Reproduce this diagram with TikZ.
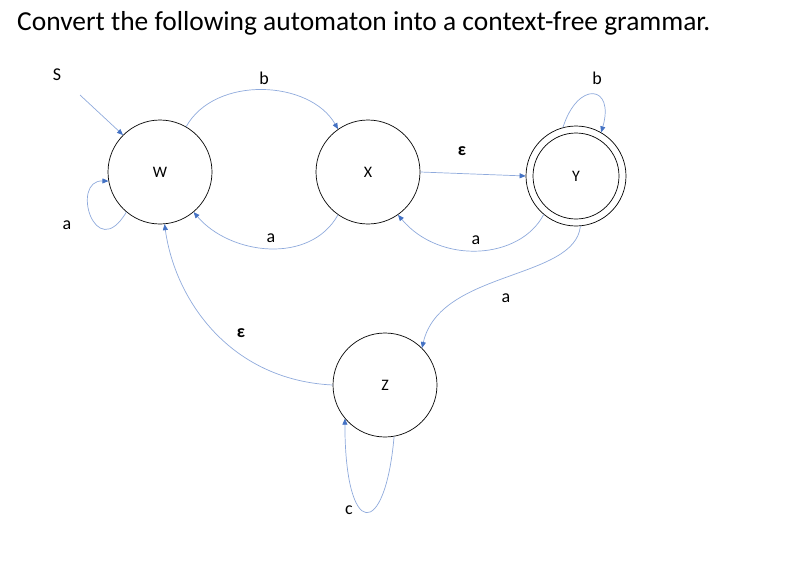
\documentclass[tikz,border=0pt]{standalone}
\usepackage{fontspec}
\setmainfont{Carlito}
\usetikzlibrary{arrows.meta}
\begin{document}
\begin{tikzpicture}[x=1pt,y=-1pt,
  st/.style={circle,draw=black,line width=0.7pt,minimum size=104pt,inner sep=0pt,font=\fontsize{16}{18}\selectfont},
  ed/.style={draw={rgb,255:red,143;green,170;blue,220},line width=0.7pt,-{Triangle[length=6pt,width=5pt,fill={rgb,255:red,68;green,114;blue,196},color={rgb,255:red,68;green,114;blue,196}]}},
  lb/.style={font=\fontsize{18}{20}\selectfont,inner sep=0pt}]
\useasboundingbox (0,0) rectangle (787,560);
\node[anchor=base west,inner sep=0pt] (title) at (17,30) {\resizebox{693pt}{!}{\fontsize{21}{24}\selectfont Convert the following automaton into a context-free grammar.}};
\node[st] (W) at (160,172) {W};
\node[st] (X) at (368,172) {X};
\node[st,minimum size=100pt] (Y) at (576,176) {};
\node[circle,draw=black,line width=0.7pt,minimum size=86pt,inner sep=0pt,font=\fontsize{16}{18}\selectfont] (Yi) at (576,176) {Y};
\node[st] (Z) at (385,385) {Z};
\node[lb] (s) at (57,75) {S};
\coordinate (s0) at (80,95);
\draw[ed] (s0) -- (W.135);
\draw[ed] (W.230) .. controls (95,265) and (70,180) .. (W.190);
\node[lb] (la1) at (67,225) {a};
\draw[ed] (W.60) .. controls (215,75) and (310,80) .. (X.125);
\node[lb] (lb1) at (264,78) {b};
\draw[ed] (X.235) .. controls (310,265) and (230,255) .. (W.310);
\node[lb] (la2) at (271,238) {a};
\draw[ed] (X.0) -- (Y.180);
\node[lb] (le1) at (462,151) {\textbf{ε}};
\draw[ed] (Y.230) .. controls (520,260) and (440,265) .. (X.305);
\node[lb] (la3) at (476,240) {a};
\draw[ed] (Y.105) .. controls (578,80) and (615,85) .. (Y.60);
\node[lb] (lb2) at (597,78) {b};
\draw[ed] (Y.275) .. controls (575,280) and (440,270) .. (Z.45);
\node[lb] (la4) at (506,298) {a};
\draw[ed] (Z.180) .. controls (230,380) and (175,300) .. (W.275);
\node[lb] (le2) at (241,333) {\textbf{ε}};
\draw[ed] (Z.280) .. controls (385,540) and (345,540) .. (Z.220);
\node[lb] (lc) at (349,510) {c};
\end{tikzpicture}
\end{document}
